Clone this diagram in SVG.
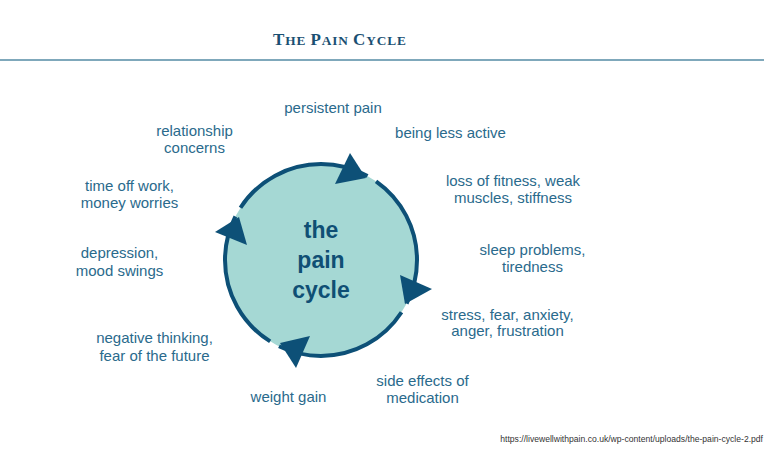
<svg xmlns="http://www.w3.org/2000/svg" width="766" height="454" viewBox="0 0 766 454">
<style>
.lbl{font-family:"Liberation Sans",Arial,sans-serif;font-size:15px;fill:#2a6a8c;text-anchor:middle}
.ctr{font-family:"Liberation Sans",Arial,sans-serif;font-size:23px;font-weight:bold;fill:#0f4f74;text-anchor:middle}
.ttl{font-family:"Liberation Serif","Times New Roman",serif;font-weight:bold;fill:#1a4f72;letter-spacing:0.9px}
.arr{fill:#0d5077}
</style>
<rect width="766" height="454" fill="#ffffff"/>
<g id="title">
<text class="ttl" x="273" y="45"><tspan font-size="17">T</tspan><tspan font-size="13.3">HE </tspan><tspan font-size="17">P</tspan><tspan font-size="13.3">AIN </tspan><tspan font-size="17">C</tspan><tspan font-size="13.3">YCLE</tspan></text>
<line x1="0" y1="60" x2="764" y2="60" stroke="#7fa8bb" stroke-width="2"/>
</g>
<g id="cycle">
<circle cx="321" cy="260" r="96" fill="#a5d8d4"/>
<circle cx="321" cy="260" r="96" fill="none" stroke="#0d5077" stroke-width="4" pathLength="360" stroke-dasharray="27 6 83 6 85 6 86 6 55"/>
<text class="ctr" x="321" y="238">the</text>
<text class="ctr" x="321" y="268">pain</text>
<text class="ctr" x="321" y="298">cycle</text>
</g>
<g id="connectors">
<polygon class="arr" points="350,153 335,184 366,178"/>
<polygon class="arr" points="400,275 432,289 405,304"/>
<polygon class="arr" points="280,343 310,336 296,368"/>
<polygon class="arr" points="215,232 239,217 247,245"/>
</g>
<g id="n-persistent"><text class="lbl" x="333" y="113">persistent pain</text></g>
<g id="n-less-active"><text class="lbl" x="450.5" y="138">being less active</text></g>
<g id="n-fitness"><text class="lbl" x="513" y="186">loss of fitness, weak</text><text class="lbl" x="513" y="203">muscles, stiffness</text></g>
<g id="n-sleep"><text class="lbl" x="532.5" y="255">sleep problems,</text><text class="lbl" x="532.5" y="272">tiredness</text></g>
<g id="n-stress"><text class="lbl" x="507.5" y="320">stress, fear, anxiety,</text><text class="lbl" x="507.5" y="336">anger, frustration</text></g>
<g id="n-side-effects"><text class="lbl" x="422.5" y="386">side effects of</text><text class="lbl" x="422.5" y="403">medication</text></g>
<g id="n-weight"><text class="lbl" x="288.5" y="402">weight gain</text></g>
<g id="n-negative"><text class="lbl" x="154.5" y="343">negative thinking,</text><text class="lbl" x="154.5" y="361">fear of the future</text></g>
<g id="n-depression"><text class="lbl" x="119.5" y="258">depression,</text><text class="lbl" x="119.5" y="276">mood swings</text></g>
<g id="n-time-off"><text class="lbl" x="129.5" y="191">time off work,</text><text class="lbl" x="129.5" y="208">money worries</text></g>
<g id="n-relationship"><text class="lbl" x="194.5" y="136">relationship</text><text class="lbl" x="194.5" y="153">concerns</text></g>
<g id="source"><text x="763" y="442" font-family="Liberation Sans,Arial,sans-serif" font-size="8.6" fill="#333333" text-anchor="end">https://livewellwithpain.co.uk/wp-content/uploads/the-pain-cycle-2.pdf</text></g>
</svg>
